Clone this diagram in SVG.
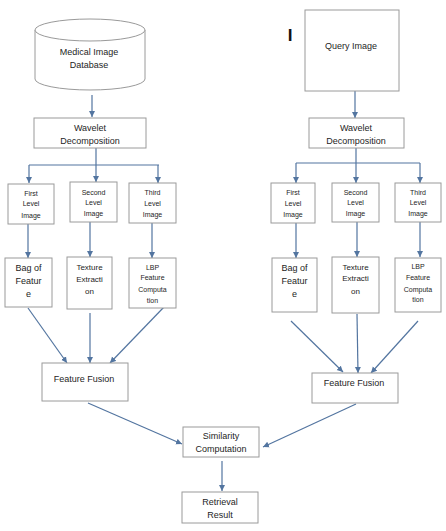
<svg xmlns="http://www.w3.org/2000/svg" width="446" height="531" viewBox="0 0 446 531">
<style>
.box{fill:#fff;stroke:#9a9a9a;stroke-width:1}
.t{font-family:"Liberation Sans",Arial,sans-serif;fill:#1e1e1e;text-anchor:middle}
.f9{font-size:9px}
.f8{font-size:8px}
.f7{font-size:7px}
.c{fill:none;stroke:#5375a0;stroke-width:1.2}
</style>
<defs>
<marker id="ah" markerUnits="userSpaceOnUse" markerWidth="7" markerHeight="7" refX="6" refY="3.5" orient="auto">
<path d="M0,0.5 L6,3.5 L0,6.5 z" fill="#5375a0"/>
</marker>
</defs>
<rect width="446" height="531" fill="#fff"/>

<g id="connectors">
<line class="c" x1="92" y1="95" x2="92" y2="117" marker-end="url(#ah)"/>
<polyline class="c" points="96,148 96,165"/>
<line class="c" x1="29" y1="165" x2="159" y2="165"/>
<line class="c" x1="29" y1="165" x2="29" y2="183" marker-end="url(#ah)"/>
<line class="c" x1="96" y1="165" x2="96" y2="182" marker-end="url(#ah)"/>
<line class="c" x1="158" y1="165" x2="158" y2="183" marker-end="url(#ah)"/>
<line class="c" x1="28" y1="224" x2="28" y2="258" marker-end="url(#ah)"/>
<line class="c" x1="90" y1="222" x2="90" y2="257" marker-end="url(#ah)"/>
<line class="c" x1="152" y1="223" x2="152" y2="258" marker-end="url(#ah)"/>
<line class="c" x1="28" y1="308" x2="67" y2="363" marker-end="url(#ah)"/>
<line class="c" x1="90" y1="313" x2="90" y2="363" marker-end="url(#ah)"/>
<line class="c" x1="164" y1="307" x2="110" y2="363" marker-end="url(#ah)"/>
<line class="c" x1="88" y1="403" x2="182" y2="444" marker-end="url(#ah)"/>

<line class="c" x1="355" y1="91" x2="355" y2="118" marker-end="url(#ah)"/>
<line class="c" x1="356" y1="148" x2="356" y2="163"/>
<line class="c" x1="296" y1="163" x2="420" y2="163"/>
<line class="c" x1="296" y1="163" x2="296" y2="183" marker-end="url(#ah)"/>
<line class="c" x1="356" y1="163" x2="356" y2="183" marker-end="url(#ah)"/>
<line class="c" x1="420" y1="163" x2="420" y2="183" marker-end="url(#ah)"/>
<line class="c" x1="296" y1="223" x2="296" y2="258" marker-end="url(#ah)"/>
<line class="c" x1="357" y1="222" x2="357" y2="257" marker-end="url(#ah)"/>
<line class="c" x1="420" y1="222" x2="420" y2="257" marker-end="url(#ah)"/>
<line class="c" x1="291" y1="321" x2="343" y2="372" marker-end="url(#ah)"/>
<line class="c" x1="357" y1="314" x2="358" y2="373" marker-end="url(#ah)"/>
<line class="c" x1="418" y1="321" x2="371" y2="373" marker-end="url(#ah)"/>
<line class="c" x1="356" y1="404" x2="263" y2="447" marker-end="url(#ah)"/>
<line class="c" x1="222" y1="461" x2="222" y2="491" marker-end="url(#ah)"/>
</g>

<g id="db">
<path class="box" d="M35,30 L35,79 A55,11 0 0 0 145,79 L145,30"/>
<ellipse class="box" cx="90" cy="30" rx="55" ry="11"/>
<text class="t f9" x="89" y="55">Medical Image</text>
<text class="t f9" x="89" y="68">Database</text>
</g>

<g id="wavelet-left">
<rect class="box" x="34" y="118" width="112" height="30"/>
<text class="t f9" x="90" y="131">Wavelet</text>
<text class="t f9" x="90" y="144">Decomposition</text>
</g>

<g id="first-left">
<rect class="box" x="8" y="184" width="46" height="40"/>
<text class="t f7" x="31" y="195.5">First</text>
<text class="t f7" x="31" y="205.5">Level</text>
<text class="t f7" x="31" y="217.5">Image</text>
</g>
<g id="second-left">
<rect class="box" x="70" y="182" width="47" height="40"/>
<text class="t f7" x="93.5" y="194.5">Second</text>
<text class="t f7" x="93.5" y="204.5">Level</text>
<text class="t f7" x="93.5" y="215.5">Image</text>
</g>
<g id="third-left">
<rect class="box" x="129" y="183" width="47" height="40"/>
<text class="t f7" x="152.5" y="194.5">Third</text>
<text class="t f7" x="152.5" y="205.5">Level</text>
<text class="t f7" x="152.5" y="216.5">Image</text>
</g>

<g id="bag-left">
<rect class="box" x="5" y="258" width="47" height="49"/>
<text class="t f9" x="28.5" y="271">Bag of</text>
<text class="t f9" x="28.5" y="284">Featur</text>
<text class="t f9" x="28.5" y="297">e</text>
</g>
<g id="texture-left">
<rect class="box" x="67" y="257" width="45" height="52"/>
<text class="t f8" x="89.5" y="270">Texture</text>
<text class="t f8" x="89.5" y="282">Extracti</text>
<text class="t f8" x="89.5" y="294">on</text>
</g>
<g id="lbp-left">
<rect class="box" x="129" y="258" width="47" height="50"/>
<text class="t f7" x="152.5" y="269.5">LBP</text>
<text class="t f7" x="152.5" y="280">Feature</text>
<text class="t f7" x="152.5" y="291.5">Computa</text>
<text class="t f7" x="152.5" y="302.5">tion</text>
</g>

<g id="fusion-left">
<rect class="box" x="42" y="363" width="86" height="38"/>
<text class="t f9" x="84" y="382">Feature Fusion</text>
</g>

<g id="query">
<text x="290" y="41" style="font-family:'Liberation Sans',Arial,sans-serif;font-size:17px;font-weight:bold;fill:#111;text-anchor:middle">I</text>
<rect class="box" x="305" y="10" width="94" height="81"/>
<text class="t f9" x="351" y="49">Query Image</text>
</g>

<g id="wavelet-right">
<rect class="box" x="309" y="118" width="95" height="30"/>
<text class="t f9" x="356" y="131">Wavelet</text>
<text class="t f9" x="356" y="144">Decomposition</text>
</g>

<g id="first-right">
<rect class="box" x="271" y="183" width="44" height="40"/>
<text class="t f7" x="293" y="194.5">First</text>
<text class="t f7" x="293" y="205.5">Level</text>
<text class="t f7" x="293" y="216.5">Image</text>
</g>
<g id="second-right">
<rect class="box" x="332" y="183" width="47" height="39"/>
<text class="t f7" x="355.5" y="194.5">Second</text>
<text class="t f7" x="355.5" y="204.5">Level</text>
<text class="t f7" x="355.5" y="215.5">Image</text>
</g>
<g id="third-right">
<rect class="box" x="395" y="183" width="46" height="39"/>
<text class="t f7" x="418" y="194.5">Third</text>
<text class="t f7" x="418" y="204.5">Level</text>
<text class="t f7" x="418" y="215.5">Image</text>
</g>

<g id="bag-right">
<rect class="box" x="272" y="258" width="45" height="54"/>
<text class="t f9" x="294.5" y="271">Bag of</text>
<text class="t f9" x="294.5" y="284">Featur</text>
<text class="t f9" x="294.5" y="297">e</text>
</g>
<g id="texture-right">
<rect class="box" x="332" y="257" width="47" height="56"/>
<text class="t f8" x="355.5" y="270">Texture</text>
<text class="t f8" x="355.5" y="281">Extracti</text>
<text class="t f8" x="355.5" y="294">on</text>
</g>
<g id="lbp-right">
<rect class="box" x="395" y="258" width="46" height="54"/>
<text class="t f7" x="418" y="268.5">LBP</text>
<text class="t f7" x="418" y="279.5">Feature</text>
<text class="t f7" x="418" y="291.5">Computa</text>
<text class="t f7" x="418" y="301.5">tion</text>
</g>

<g id="fusion-right">
<rect class="box" x="312" y="373" width="86" height="30"/>
<text class="t f9" x="354" y="386">Feature Fusion</text>
</g>

<g id="similarity">
<rect class="box" x="183" y="427" width="76" height="30"/>
<text class="t f9" x="221" y="439">Similarity</text>
<text class="t f9" x="221" y="452">Computation</text>
</g>

<g id="retrieval">
<rect class="box" x="182" y="492" width="76" height="31"/>
<text class="t f9" x="220" y="505">Retrieval</text>
<text class="t f9" x="220" y="518">Result</text>
</g>
</svg>
